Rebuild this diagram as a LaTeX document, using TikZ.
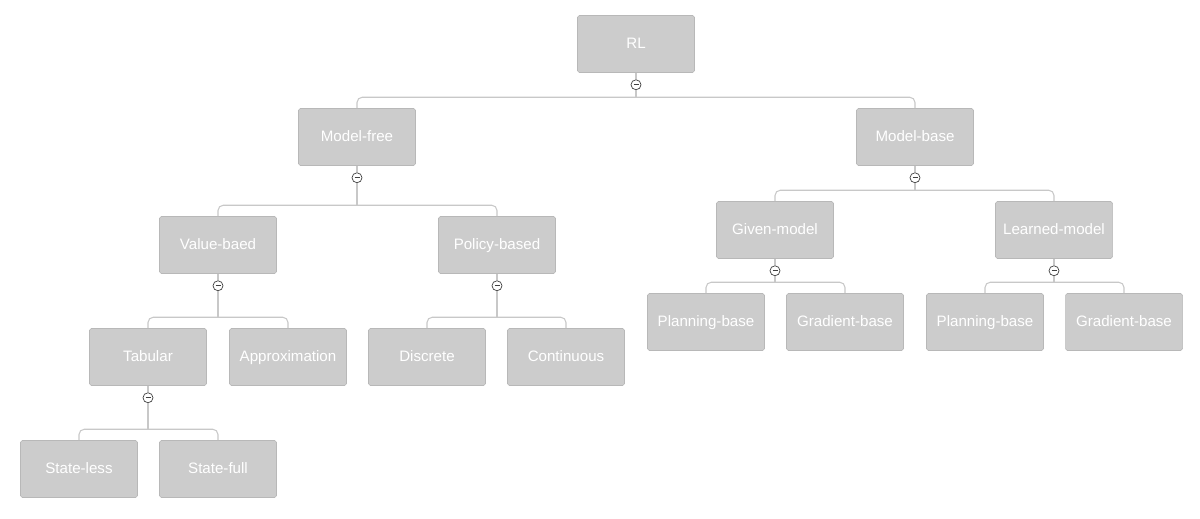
\documentclass[tikz,border=0pt]{standalone}
\usepackage{fontspec}
\setmainfont{Liberation Sans}
\usetikzlibrary{calc}
\definecolor{boxc}{HTML}{CCCCCC}
\definecolor{linec}{HTML}{C8C8C8}
\tikzset{
  box/.style={draw=boxc!90!black,line width=0.3pt,fill=boxc,rounded corners=1pt,minimum width=117*0.02cm,minimum height=57*0.02cm,text=white,font=\fontsize{8.6}{10}\selectfont,inner sep=0pt,text height=0.72em,text depth=0.2em},
  conn/.style={draw=linec,line width=0.6pt,rounded corners=3pt},
  tog/.style={circle,draw=black!75,fill=white,line width=0.4pt,minimum size=10*0.02cm,inner sep=0pt},
}
\newcommand{\branch}[4]{%
  \node[tog] (#4) at ($(#1.south)+(0,12)$) {};
  \draw[black!75,line width=0.5pt] ($(#4)+(-2.5,0)$) -- ($(#4)+(2.5,0)$);
  \draw[conn] (#1.south) -- (#4.north);
  \draw[conn] (#2.north) -- ++(0,-11) -| (#3.north);
  \draw[conn,sharp corners] (#4.south) -- (#4 |- {$(#2.north)+(0,-11)$});
}
\begin{document}
\begin{tikzpicture}[x=0.02cm,y=-0.02cm]
\useasboundingbox[fill=white] (0,0) rectangle (1200,519);
\node[box] (rl) at (636,44) {RL};
\node[box] (mf) at (357,137) {Model-free};
\node[box] (mb) at (915,137) {Model-base};
\node[box] (vb) at (218,245) {Value-baed};
\node[box] (pb) at (497,245) {Policy-based};
\node[box] (gm) at (775,230) {Given-model};
\node[box] (lm) at (1054,230) {Learned-model};
\node[box] (tb) at (148,357) {Tabular};
\node[box] (ap) at (288,357) {Approximation};
\node[box] (di) at (427,357) {Discrete};
\node[box] (co) at (566,357) {Continuous};
\node[box] (pl1) at (706,322) {Planning-base};
\node[box] (gr1) at (845,322) {Gradient-base};
\node[box] (pl2) at (985,322) {Planning-base};
\node[box] (gr2) at (1124,322) {Gradient-base};
\node[box] (sl) at (79,469) {State-less};
\node[box] (sf) at (218,469) {State-full};
\branch{rl}{mf}{mb}{t1}
\branch{mf}{vb}{pb}{t2}
\branch{mb}{gm}{lm}{t3}
\branch{vb}{tb}{ap}{t4}
\branch{pb}{di}{co}{t5}
\branch{gm}{pl1}{gr1}{t6}
\branch{lm}{pl2}{gr2}{t7}
\branch{tb}{sl}{sf}{t8}
\end{tikzpicture}
\end{document}
